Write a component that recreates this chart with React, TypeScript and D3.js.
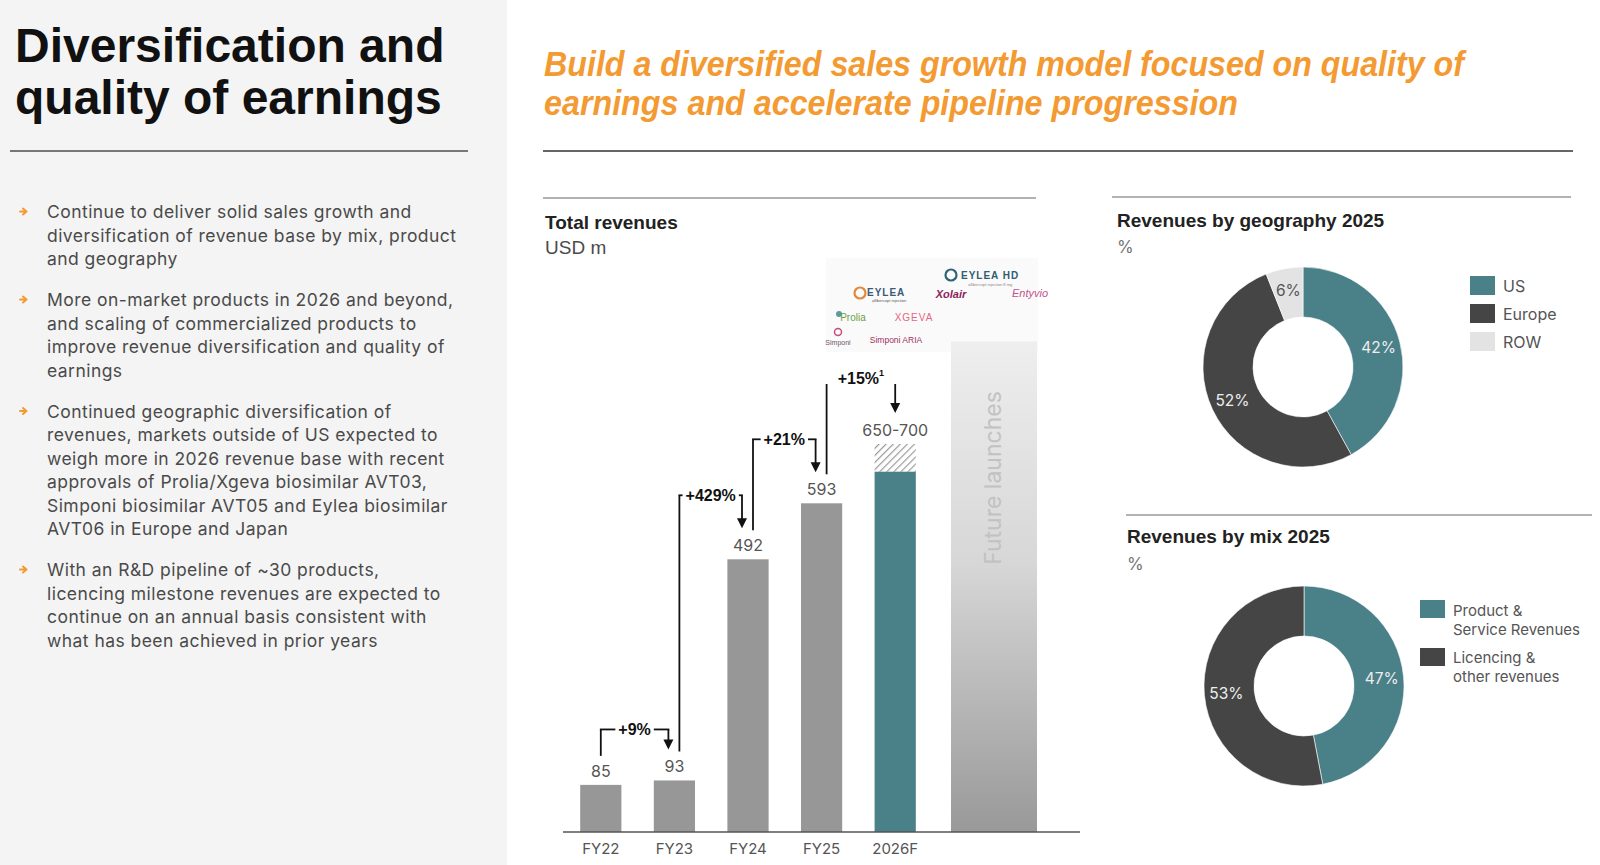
import * as d3 from "d3";

// Revenue bars (USD m)
const CATEGORIES = ["FY22", "FY23", "FY24", "FY25", "2026F"];
const REVENUE = [85, 93, 492, 593, 650];
const FORECAST_HIGH = 700; // top of the 2026F guidance range
const VALUE_LABELS = ["85", "93", "492", "593", "650-700"];
const GROWTH = ["+9%", "+429%", "+21%", "+15%"];
const FUTURE_TOP = 885; // height of the "Future launches" block, same scale

// Donuts (%)
const GEO_KEYS = ["US", "Europe", "ROW"];
const GEO_SHARE = [42, 52, 6];
const MIX_KEYS = [
  ["Product &", "Service Revenues"],
  ["Licencing &", "other revenues"],
];
const MIX_SHARE = [47, 53];

const BULLETS = [
  [
    "Continue to deliver solid sales growth and",
    "diversification of revenue base by mix, product",
    "and geography",
  ],
  [
    "More on-market products in 2026 and beyond,",
    "and scaling of commercialized products to",
    "improve revenue diversification and quality of",
    "earnings",
  ],
  [
    "Continued geographic diversification of",
    "revenues, markets outside of US expected to",
    "weigh more in 2026 revenue base with recent",
    "approvals of Prolia/Xgeva biosimilar AVT03,",
    "Simponi biosimilar AVT05 and Eylea biosimilar",
    "AVT06 in Europe and Japan",
  ],
  [
    "With an R&D pipeline of ~30 products,",
    "licencing milestone revenues are expected to",
    "continue on an annual basis consistent with",
    "what has been achieved in prior years",
  ],
];

const FONT = "'Liberation Sans', Arial, sans-serif";
const BODY = "Inter, 'Liberation Sans', sans-serif";
const TEAL = "#4a8088";
const DARK = "#454545";
const ROW_GREY = "#e3e3e3";
const BAR = "#979797";
const ORANGE = "#f49a32";
const TEXT = "#4a4a4a";

// rough bold glyph widths (em) for the growth labels
const glyphW = (s: string) =>
  s.split("").reduce((w, c) => w + (c === "%" ? 0.889 : c === "+" ? 0.584 : 0.556), 0);

function Donut({
  cx,
  cy,
  shares,
  colors,
  labelColors,
}: {
  cx: number;
  cy: number;
  shares: number[];
  colors: string[];
  labelColors: string[];
}) {
  const pie = d3.pie<number>().sort(null).value((d) => d);
  const arc = d3.arc<d3.PieArcDatum<number>>().innerRadius(50).outerRadius(100);
  const labelArc = d3.arc<d3.PieArcDatum<number>>().innerRadius(78).outerRadius(78);
  const arcs = pie(shares);
  return (
    <g transform={`translate(${cx},${cy})`}>
      {arcs.map((a, i) => (
        <path key={i} d={arc(a) ?? ""} fill={colors[i]} stroke="#fff" strokeWidth={0.6} />
      ))}
      {arcs.map((a, i) => {
        const [lx, ly] = labelArc.centroid(a);
        return (
          <text
            key={i}
            x={lx}
            y={ly}
            textAnchor="middle"
            dominantBaseline="central"
            fontSize={15.5}
            fontFamily={BODY}
            fill={labelColors[i]}
          >
            {`${shares[i]}%`}
          </text>
        );
      })}
    </g>
  );
}

export default function App() {
  const x = d3
    .scaleBand<string>()
    .domain(CATEGORIES)
    .range([564, 932])
    .paddingInner(0.44)
    .paddingOuter(0.22);
  const y = d3.scaleLinear().domain([0, FORECAST_HIGH]).range([832, 444]);
  const bw = x.bandwidth();
  const cx = (i: number) => (x(CATEGORIES[i]) ?? 0) + bw / 2;
  const last = CATEGORIES.length - 1;
  const topOf = (i: number) => (i === last ? y(FORECAST_HIGH) : y(REVENUE[i]));
  const labelBase = (i: number) => topOf(i) - 8;
  const GFS = 16;

  // growth brackets between consecutive bars
  const brackets = GROWTH.map((g, i) => {
    const forecast = i + 1 === last;
    const sx = cx(i) + (i === 0 ? 0 : 5);
    const ex = cx(i + 1) + (forecast ? 0 : -6);
    const sy = labelBase(i) - 21;
    const ey = labelBase(i + 1) - 23;
    const ty = ey - (i === 0 ? 20 : forecast ? 35 : 33);
    const mid = (sx + ex) / 2;
    const tw = glyphW(g) * GFS + (forecast ? 6 : 0);
    return { g, i, forecast, sx, ex, sy, ey, ty, mid, tw };
  });

  const future = { x0: 951, x1: 1037 };

  let lineY = 218;
  const bulletLines: { text: string; y: number; first: boolean }[] = [];
  BULLETS.forEach((b) => {
    b.forEach((t, j) => {
      bulletLines.push({ text: t, y: lineY, first: j === 0 });
      lineY += 23.5;
    });
    lineY += 17.5;
  });

  return (
    <svg
      width={1600}
      height={865}
      style={{ position: "absolute", left: 0, top: 0, display: "block" }}
      fontFamily={FONT}
    >
      <defs>
        <pattern
          id="hatch"
          width={5}
          height={5}
          patternUnits="userSpaceOnUse"
          patternTransform="rotate(45)"
        >
          <rect width={5} height={5} fill="#fff" />
          <line x1={0} y1={0} x2={0} y2={5} stroke="#9a9a9a" strokeWidth={2.4} />
        </pattern>
        <linearGradient id="futureGrad" x1="0" y1="0" x2="0" y2="1">
          <stop offset="0" stopColor="#eeeeee" />
          <stop offset="0.45" stopColor="#d7d7d7" />
          <stop offset="1" stopColor="#999999" />
        </linearGradient>
      </defs>

      <rect width={1600} height={865} fill="#fff" />
      {/* left panel */}
      <rect width={507} height={865} fill="#f4f4f4" />
      <text x={15} y={62} fontSize={48} fontWeight="bold" fill="#111">
        Diversification and
      </text>
      <text x={15} y={114} fontSize={48} fontWeight="bold" fill="#111">
        quality of earnings
      </text>
      <line x1={10} x2={468} y1={151} y2={151} stroke="#777" strokeWidth={2} />

      {bulletLines.map((l, k) => (
        <g key={k}>
          {l.first && (
            <path
              d={`M20,${l.y - 6.5}h5.5M23,${l.y - 9.5}l3.5,3l-3.5,3`}
              stroke={ORANGE}
              strokeWidth={2}
              fill="none"
              strokeLinecap="round"
              strokeLinejoin="round"
            />
          )}
          <text x={47} y={l.y} fontSize={17.5} letterSpacing={0.45} fontFamily={BODY} fill={TEXT}>
            {l.text}
          </text>
        </g>
      ))}

      {/* headline */}
      <text x={544} y={76} fontSize={35} fontWeight="bold" fontStyle="italic" fill={ORANGE} textLength={920} lengthAdjust="spacingAndGlyphs">
        Build a diversified sales growth model focused on quality of
      </text>
      <text x={544} y={115} fontSize={35} fontWeight="bold" fontStyle="italic" fill={ORANGE} textLength={694} lengthAdjust="spacingAndGlyphs">
        earnings and accelerate pipeline progression
      </text>
      <line x1={543} x2={1573} y1={151} y2={151} stroke="#666" strokeWidth={2} />

      {/* total revenues */}
      <line x1={543} x2={1036} y1={198} y2={198} stroke="#999" strokeWidth={1.5} />
      <text x={545} y={229} fontSize={19} fontWeight="bold" fill="#222">
        Total revenues
      </text>
      <text x={545} y={254} fontSize={19} fill={TEXT}>
        USD m
      </text>

      {/* logos */}
      <rect x={826} y={258} width={212} height={94} fill="#fafafa" />
      <circle cx={951} cy={275} r={5.5} fill="none" stroke="#2f6475" strokeWidth={2.2} />
      <text x={961} y={279} fontSize={10} fontWeight="bold" fill="#2f5d70" letterSpacing={1}>EYLEA HD</text>
      <text x={968} y={286} fontSize={4} fill="#888">aflibercept injection 8 mg</text>
      <circle cx={860} cy={293} r={5.5} fill="none" stroke="#e2883a" strokeWidth={2.2} />
      <text x={867} y={296} fontSize={10} fontWeight="bold" fill="#3b5a78" letterSpacing={1}>EYLEA</text>
      <text x={872} y={302} fontSize={4} fill="#555">aflibercept injection</text>
      <text x={951} y={298} fontSize={11} fontWeight="bold" fontStyle="italic" fill="#8a1f5e" textAnchor="middle">Xolair</text>
      <text x={1030} y={297} fontSize={11} fontStyle="italic" fill="#c4528e" textAnchor="middle">Entyvio</text>
      <circle cx={839} cy={314} r={3} fill="#5a9aa0" />
      <text x={853} y={321} fontSize={10} fill="#6aa040" textAnchor="middle">Prolia</text>
      <text x={914} y={321} fontSize={10} fill="#e5677f" textAnchor="middle" letterSpacing={1}>XGEVA</text>
      <circle cx={838} cy={332} r={3.5} fill="none" stroke="#c0507a" strokeWidth={1.5} />
      <text x={838} y={345} fontSize={7} fill="#6e5566" textAnchor="middle">Simponi</text>
      <text x={896} y={343} fontSize={8.5} fill="#a03060" textAnchor="middle">Simponi ARIA</text>

      {/* future launches */}
      <rect x={future.x0} y={y(FUTURE_TOP)} width={future.x1 - future.x0} height={832 - y(FUTURE_TOP)} fill="url(#futureGrad)" />
      <text
        transform={`translate(${(future.x0 + future.x1) / 2 - 1},478) rotate(-90)`}
        textAnchor="middle"
        dominantBaseline="central"
        fontSize={23}
        fontFamily={BODY}
        fill="#c2c2c2"
      >
        Future launches
      </text>

      {/* bars */}
      {CATEGORIES.map((c, i) => (
        <g key={c}>
          {i === last ? (
            <>
              <rect x={x(c)} y={y(FORECAST_HIGH)} width={bw} height={y(REVENUE[i]) - y(FORECAST_HIGH)} fill="url(#hatch)" />
              <rect x={x(c)} y={y(REVENUE[i])} width={bw} height={y(0) - y(REVENUE[i])} fill={TEAL} />
            </>
          ) : (
            <rect x={x(c)} y={y(REVENUE[i])} width={bw} height={y(0) - y(REVENUE[i])} fill={BAR} />
          )}
          <text x={cx(i)} y={labelBase(i)} textAnchor="middle" fontSize={16} fontFamily={BODY} fill="#555">
            {VALUE_LABELS[i]}
          </text>
          <text x={cx(i)} y={854} textAnchor="middle" fontSize={15} fontFamily={BODY} fill="#555">
            {c}
          </text>
        </g>
      ))}
      <line x1={563} x2={1080} y1={y(0)} y2={y(0)} stroke="#555" strokeWidth={1.5} />

      {/* growth brackets */}
      {brackets.map((b) => {
        const l1 = b.mid - b.tw / 2 - 3;
        const r1 = b.mid + b.tw / 2 + 3;
        const top = b.forecast ? b.ty + 6 : b.ty;
        return (
          <g key={b.g} stroke="#111" strokeWidth={1.8} fill="none">
            <line x1={b.sx} x2={b.sx} y1={b.sy} y2={top} />
            {!b.forecast && l1 - b.sx > 1 && <line x1={b.sx - 0.9} x2={l1} y1={b.ty} y2={b.ty} />}
            {!b.forecast && b.ex - r1 > 1 && <line x1={r1} x2={b.ex + 0.9} y1={b.ty} y2={b.ty} />}
            <line x1={b.ex} x2={b.ex} y1={top} y2={b.ey - 9} />
            <path d={`M${b.ex - 5},${b.ey - 10}L${b.ex + 5},${b.ey - 10}L${b.ex},${b.ey}Z`} fill="#111" stroke="none" />
            <text
              x={b.mid}
              y={b.ty}
              dominantBaseline="central"
              textAnchor="middle"
              fontSize={GFS}
              fontWeight="bold"
              fill="#111"
              stroke="none"
            >
              {b.g}
              {b.forecast && (
                <tspan fontSize={9} dy={-5}>
                  1
                </tspan>
              )}
            </text>
          </g>
        );
      })}

      {/* geography donut */}
      <line x1={1112} x2={1571} y1={197} y2={197} stroke="#999" strokeWidth={1.5} />
      <text x={1117} y={227} fontSize={19} fontWeight="bold" fill="#222">
        Revenues by geography 2025
      </text>
      <text x={1117} y={253} fontSize={17} fontFamily={BODY} fill="#777">
        %
      </text>
      <Donut cx={1303} cy={367} shares={GEO_SHARE} colors={[TEAL, DARK, ROW_GREY]} labelColors={["#eee", "#eee", "#555"]} />
      {GEO_KEYS.map((k, i) => (
        <g key={k}>
          <rect x={1470} y={276 + i * 28} width={25} height={19} fill={[TEAL, DARK, ROW_GREY][i]} />
          <text x={1503} y={292 + i * 28} fontSize={16} fontFamily={BODY} fill="#555">
            {k}
          </text>
        </g>
      ))}

      {/* mix donut */}
      <line x1={1126} x2={1592} y1={515} y2={515} stroke="#999" strokeWidth={1.5} />
      <text x={1127} y={543} fontSize={19} fontWeight="bold" fill="#222">
        Revenues by mix 2025
      </text>
      <text x={1127} y={570} fontSize={17} fontFamily={BODY} fill="#777">
        %
      </text>
      <Donut cx={1304} cy={686} shares={MIX_SHARE} colors={[TEAL, DARK]} labelColors={["#eee", "#eee"]} />
      {MIX_KEYS.map((k, i) => (
        <g key={k[0]}>
          <rect x={1420} y={600 + i * 48} width={25} height={18} fill={[TEAL, DARK][i]} />
          {k.map((t, j) => (
            <text key={t} x={1453} y={616 + i * 47 + j * 19} fontSize={15} fontFamily={BODY} fill="#555">
              {t}
            </text>
          ))}
        </g>
      ))}
    </svg>
  );
}
